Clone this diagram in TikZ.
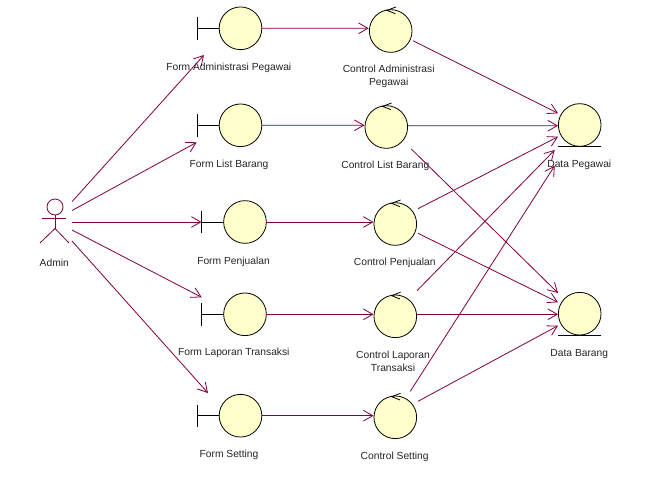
\documentclass[tikz,border=0pt]{standalone}
\usepackage{fontspec}
\setmainfont{Liberation Sans}
\usetikzlibrary{arrows.meta}
\definecolor{assoc}{RGB}{128,0,64}
\definecolor{robust}{RGB}{255,255,204}
\tikzset{
  x=0.75pt, y=-0.75pt,
  robustball/.style={circle,draw=black,fill=robust,line width=0.6pt,minimum size=32pt,inner sep=0pt,outer sep=0pt},
  smallglyph/.style={draw=black,line width=0.6pt},
  actorline/.style={draw=assoc,line width=0.6pt},
  anchorpt/.style={inner sep=0pt,outer sep=0pt,minimum size=0pt},
  assocline/.style={draw=assoc,line width=0.6pt,-{Straight Barb[length=7pt,width=8pt,line width=0.6pt]}},
  caption/.style={font=\fontsize{7.7}{9.75}\selectfont,align=center,inner sep=0pt,text=black!85,yshift=-0.7pt}
}
\begin{document}
\begin{tikzpicture}
\useasboundingbox[fill=white] (0,0) rectangle (664,486);

% actor
\node[anchorpt] (admin) at (55,222) {};
\begin{scope}[shift={(admin)}]
  \draw[actorline] (0,-15) circle (8);
  \draw[actorline] (-13,-3.7) -- (11,-3.7);
  \draw[actorline] (0,-7) -- (0,6.5);
  \draw[actorline] (-15,21) -- (0,6.5) -- (14,21);
\end{scope}

% boundary objects
\foreach \n/\cx/\cy in {fa/240.5/28.3, fl/240.5/125.3, fp/245/222, fr/245/314.3, fs/240.5/415.7}{
  \node[robustball] (\n) at (\cx,\cy) {};
  \draw[smallglyph] (\n.west) -- ++(-22,0) ++(0,-11.2) -- ++(0,22.4);
}

% control objects
\foreach \n/\cx/\cy in {ca/390.7/31, cl/386.3/127, cp/395.3/224, cr/395.3/316.3, cs/395.3/417.3}{
  \node[robustball] (\n) at (\cx,\cy) {};
  \draw[smallglyph] ([shift={(5.3,-2.7)}]\n.north) -- ([shift={(-3.7,0.7)}]\n.north) -- ([shift={(4.7,4)}]\n.north);
}

% entity objects
\foreach \n/\cx/\cy in {dp/579.7/125, db/579.7/313.7}{
  \node[robustball] (\n) at (\cx,\cy) {};
  \draw[smallglyph] ([shift={(-21.5,0.3)}]\n.south) -- ([shift={(21.5,0.3)}]\n.south);
}

% captions
\node[caption] (tadmin) at (54.3,261.7) {Admin};
\node[caption] (tfa) at (228.8,66.7) {Form Administrasi Pegawai};
\node[caption] (tfl) at (229,163.7) {Form List Barang};
\node[caption] (tfp) at (233.5,260.7) {Form Penjualan};
\node[caption] (tfr) at (233.8,352.3) {Form Laporan Transaksi};
\node[caption] (tfs) at (229,453.7) {Form Setting};
\node[caption] (tca) at (388.7,75.2) {Control Administrasi\\Pegawai};
\node[caption] (tcl) at (385.3,164.7) {Control List Barang};
\node[caption] (tcp) at (394.7,261.7) {Control Penjualan};
\node[caption] (tcr) at (393,360.2) {Control Laporan\\Transaksi};
\node[caption] (tcs) at (394.7,455.7) {Control Setting};
\node[caption] (tdp) at (579.3,163.7) {Data Pegawai};
\node[caption] (tdb) at (579.3,353) {Data Barang};

% actor to boundary
\draw[assocline] ([shift={(17,-20.3)}]admin.center) -- ([shift={(-36.5,26.7)}]fa.center);
\draw[assocline] ([shift={(17,-11.5)}]admin.center) -- ([shift={(-43.8,17)}]fl.center);
\draw[assocline] ([shift={(17,0)}]admin.center) -- ([shift={(-43.5,0)}]fp.center);
\draw[assocline] ([shift={(17,8)}]admin.center) -- ([shift={(-43.3,-17)}]fr.center);
\draw[assocline] ([shift={(17,19)}]admin.center) -- ([shift={(-32.5,-22.7)}]fs.center);

% boundary to control
\draw[assocline] (fa.east) -- ([shift={(-22,-2.7)}]ca.center);
\draw[assocline] (fl.east) -- ([shift={(-21.8,-1.7)}]cl.center);
\draw[assocline] (fp.east) -- ([shift={(-21.8,-2)}]cp.center);
\draw[assocline] (fr.east) -- ([shift={(-21.8,-2)}]cr.center);
\draw[assocline] (fs.east) -- ([shift={(-21.8,-1.6)}]cs.center);

% control to entity
\draw[assocline] ([shift={(22.3,9.7)}]ca.center) -- ([shift={(-21.7,-11.7)}]dp.center);
\draw[assocline] ([shift={(21.7,-1.3)}]cl.center) -- ([shift={(-21.7,0.7)}]dp.center);
\draw[assocline] ([shift={(25,22)}]cl.center) -- ([shift={(-21.7,-20.7)}]db.center);
\draw[assocline] ([shift={(22.7,-15.3)}]cp.center) -- ([shift={(-21.7,11.7)}]dp.center);
\draw[assocline] ([shift={(22.7,9.3)}]cp.center) -- ([shift={(-21.7,-11.4)}]db.center);
\draw[assocline] ([shift={(21.7,-25.6)}]cr.center) -- ([shift={(-25,25)}]dp.center);
\draw[assocline] ([shift={(21.7,-2)}]cr.center) -- ([shift={(-21.7,0.6)}]db.center);
\draw[assocline] ([shift={(15,-26)}]cs.center) -- ([shift={(-25,40.7)}]dp.center);
\draw[assocline] ([shift={(22.7,-16)}]cs.center) -- ([shift={(-21.7,12)}]db.center);
\end{tikzpicture}
\end{document}
